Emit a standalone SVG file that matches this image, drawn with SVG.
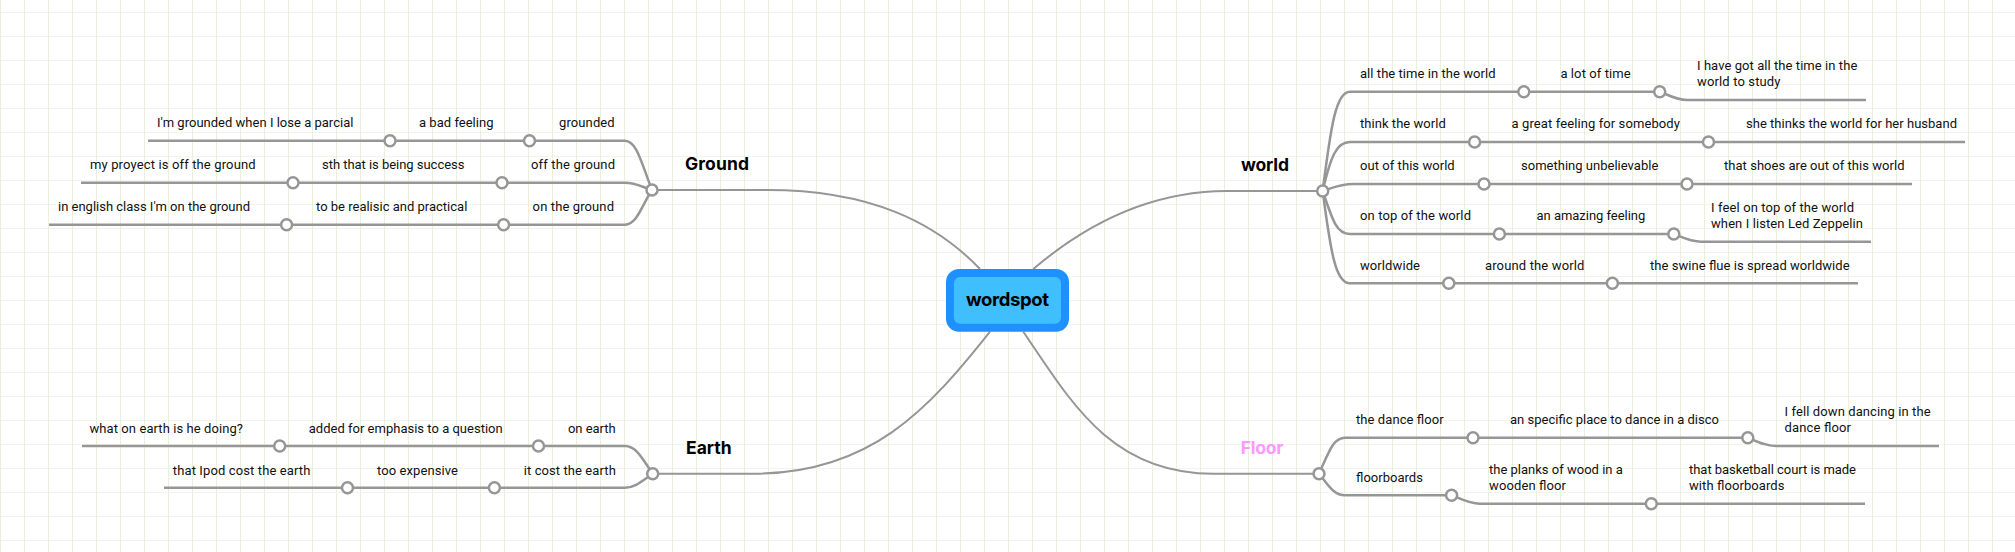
<svg xmlns="http://www.w3.org/2000/svg" width="2015" height="552" viewBox="0 0 2015 552">
<style>
text{font-family:Roboto,"Liberation Sans",sans-serif;font-size:13px;fill:#111}
.b{font-family:Inter,Roboto,sans-serif;font-weight:700;font-size:17.500px;fill:#000}
.c path{fill:none;stroke:#969696;stroke-width:2.500}
.c path.t{stroke-width:2}
.d circle{fill:#fff;stroke:#969696;stroke-width:2.500}
</style>
<defs><pattern id="grid" width="24" height="24" patternUnits="userSpaceOnUse"><path d="M0 12.500H24" fill="none" stroke="#f0f6e8" stroke-width="1"/><path d="M0.500 0V24" fill="none" stroke="#e9f0dd" stroke-width="1"/></pattern></defs>
<rect width="2015" height="552" fill="#fff"/>
<rect width="2015" height="552" fill="url(#grid)"/>
<g id="connectors" class="c">
<path class="t" d="M980 269C935 222 870 190 767 190H652"/>
<path class="t" d="M1033.300 269C1085 225 1150 191 1227 191H1322.700"/>
<path class="t" d="M990 331.700C928 410 870 473.700 753 473.700H652.700"/>
<path class="t" d="M1023.300 331.700C1070 400 1110 473.700 1213 473.700H1319"/>
<path d="M652 190C642 165 637 140.700 625 140.700H148"/>
<path d="M652 190C642 187 636 182.700 625 182.700H81"/>
<path d="M652 190C642 205 637 224.700 625 224.700H49"/>
<path d="M652.700 473.700C642 458 636 446 625 446H82"/>
<path d="M652.700 473.700C642 481 635 487.700 625 487.700H164"/>
<path d="M1322.700 191C1331 125 1336 91.700 1350 91.700H1660C1670 96 1677 100 1687 100H1866"/>
<path d="M1322.700 191C1331 155 1337 142 1350 142H1965"/>
<path d="M1322.700 191C1335 187 1340 184 1353 184H1912"/>
<path d="M1322.700 191C1333 222 1337 234 1350 234H1674C1684 238 1691 241.700 1701 241.700H1871"/>
<path d="M1322.700 191C1331 255 1336 283.300 1350 283.300H1858"/>
<path d="M1319 473.700C1329 452 1333 437.700 1345 437.700H1748C1758 442 1766 446 1776 446H1939"/>
<path d="M1319 473.700C1328 484 1333 495.300 1345 495.300H1452C1462 499.500 1470 503.700 1480 503.700H1865"/>
</g>
<g id="center"><rect x="946" y="269" width="123" height="62.700" rx="13" fill="#1e90ff"/><rect x="954" y="277" width="107" height="46.700" rx="6" fill="#40bfff"/><text x="1007.500" y="306" text-anchor="middle" class="b" style="font-size:18.500px" textLength="83">wordspot</text></g>
<g id="ground" class="d">
<text x="685" y="170" class="b" textLength="64">Ground</text>
<circle cx="652" cy="190" r="5.500"/><circle cx="529.500" cy="140.700" r="5.500"/><circle cx="390" cy="140.700" r="5.500"/><circle cx="502" cy="182.700" r="5.500"/><circle cx="293" cy="182.700" r="5.500"/><circle cx="503.600" cy="224.700" r="5.500"/><circle cx="286.600" cy="224.700" r="5.500"/>
<text x="559" y="127" textLength="55.700">grounded</text><text x="419" y="127" textLength="74.500">a bad feeling</text><text x="157" y="127" textLength="196.400">I'm grounded when I lose a parcial</text>
<text x="531" y="169" textLength="84">off the ground</text><text x="322" y="169" textLength="142.400">sth that is being success</text><text x="90" y="169" textLength="165.600">my proyect is off the ground</text>
<text x="532.600" y="211" textLength="81.400">on the ground</text><text x="316" y="211" textLength="151.300">to be realisic and practical</text><text x="58" y="211" textLength="192">in english class I'm on the ground</text>
</g>
<g id="earth" class="d">
<text x="686" y="454" class="b" textLength="45.700">Earth</text>
<circle cx="652.700" cy="473.700" r="5.500"/><circle cx="538.500" cy="446" r="5.500"/><circle cx="279.700" cy="446" r="5.500"/><circle cx="494.400" cy="487.700" r="5.500"/><circle cx="347.500" cy="487.700" r="5.500"/>
<text x="568" y="432.500" textLength="47.600">on earth</text><text x="308.700" y="432.500" textLength="194">added for emphasis to a question</text><text x="89.500" y="432.500" textLength="153.500">what on earth is he doing?</text>
<text x="523.800" y="474.500" textLength="92">it cost the earth</text><text x="377" y="474.500" textLength="81">too expensive</text><text x="172.800" y="474.500" textLength="137.600">that Ipod cost the earth</text>
</g>
<g id="world" class="d">
<text x="1241" y="171" class="b" textLength="48">world</text>
<circle cx="1322.700" cy="191" r="5.500"/><circle cx="1523.800" cy="91.700" r="5.500"/><circle cx="1659.700" cy="91.700" r="5.500"/><circle cx="1474.600" cy="142" r="5.500"/><circle cx="1708.500" cy="142" r="5.500"/><circle cx="1484" cy="184" r="5.500"/><circle cx="1687" cy="184" r="5.500"/><circle cx="1499.400" cy="234" r="5.500"/><circle cx="1673.800" cy="234" r="5.500"/><circle cx="1448.800" cy="283.300" r="5.500"/><circle cx="1612.400" cy="283.300" r="5.500"/>
<text x="1360" y="78" textLength="135.500">all the time in the world</text><text x="1560.400" y="78" textLength="70.300">a lot of time</text><text x="1697" y="70" textLength="160.300">I have got all the time in the</text><text x="1697" y="86" textLength="83.500">world to study</text>
<text x="1360" y="128" textLength="85.800">think the world</text><text x="1511.600" y="128" textLength="168.300">a great feeling for somebody</text><text x="1746" y="128" textLength="211">she thinks the world for her husband</text>
<text x="1360" y="170" textLength="94.700">out of this world</text><text x="1521" y="170" textLength="137.300">something unbelievable</text><text x="1724" y="170" textLength="180.500">that shoes are out of this world</text>
<text x="1360" y="220" textLength="111">on top of the world</text><text x="1536.500" y="220" textLength="108.800">an amazing feeling</text><text x="1711" y="212" textLength="143">I feel on top of the world</text><text x="1711" y="228" textLength="152">when I listen Led Zeppelin</text>
<text x="1360" y="270" textLength="60">worldwide</text><text x="1485" y="270" textLength="99.400">around the world</text><text x="1650" y="270" textLength="199.600">the swine flue is spread worldwide</text>
</g>
<g id="floor" class="d">
<text x="1240.700" y="454" class="b" style="fill:#ff99ff" textLength="42.600">Floor</text>
<circle cx="1319" cy="473.700" r="5.500"/><circle cx="1473" cy="437.700" r="5.500"/><circle cx="1747.800" cy="437.700" r="5.500"/><circle cx="1451.600" cy="495.300" r="5.500"/><circle cx="1651.300" cy="503.700" r="5.500"/>
<text x="1356" y="424" textLength="87.700">the dance floor</text><text x="1510" y="424" textLength="209">an specific place to dance in a disco</text><text x="1784.600" y="416" textLength="146">I fell down dancing in the</text><text x="1784.600" y="432" textLength="66.400">dance floor</text>
<text x="1356" y="482" textLength="66.900">floorboards</text><text x="1489" y="474" textLength="133.800">the planks of wood in a</text><text x="1489" y="490" textLength="77">wooden floor</text><text x="1689" y="474" textLength="167">that basketball court is made</text><text x="1689" y="490" textLength="95.500">with floorboards</text>
</g>
</svg>
